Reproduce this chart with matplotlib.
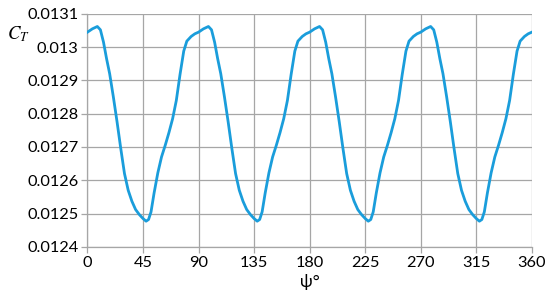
import matplotlib

matplotlib.use("Agg")
import matplotlib.pyplot as plt

plt.rcParams["font.family"] = ["Lato", "DejaVu Sans"]
plt.rcParams["mathtext.fontset"] = "stix"

# azimuth angle (deg) and thrust coefficient
psi = [
    0, 4, 8, 10.5, 13, 15.5, 18, 21, 24, 27, 30, 33, 36, 39, 42, 45, 47.5,
    49.5, 51.5, 54, 57, 60, 63, 66, 69, 72, 75, 78, 80.5, 84, 87,
    90, 94, 98, 100.5, 103, 105.5, 108, 111, 114, 117, 120, 123, 126, 129, 132,
    135, 137.5, 139.5, 141.5, 144, 147, 150, 153, 156, 159, 162, 165, 168,
    170.5, 174, 177,
    180, 184, 188, 190.5, 193, 195.5, 198, 201, 204, 207, 210, 213, 216, 219,
    222, 225, 227.5, 229.5, 231.5, 234, 237, 240, 243, 246, 249, 252, 255, 258,
    260.5, 264, 267,
    270, 274, 278, 280.5, 283, 285.5, 288, 291, 294, 297, 300, 303, 306, 309,
    312, 315, 317.5, 319.5, 321.5, 324, 327, 330, 333, 336, 339, 342, 345, 348,
    350.5, 354, 357,
    360,
]
ct = [
    0.013045, 0.013055, 0.013062, 0.013052, 0.013015, 0.012965, 0.012920,
    0.012850, 0.012775, 0.012695, 0.012620, 0.012570, 0.012537, 0.012512,
    0.012497, 0.012485, 0.012477, 0.012482, 0.012505, 0.012562, 0.012622,
    0.012670, 0.012705, 0.012743, 0.012785, 0.012840, 0.012918, 0.012988,
    0.013018, 0.013032, 0.013040,
    0.013045, 0.013055, 0.013062, 0.013052, 0.013015, 0.012965, 0.012920,
    0.012850, 0.012775, 0.012695, 0.012620, 0.012570, 0.012537, 0.012512,
    0.012497, 0.012485, 0.012477, 0.012482, 0.012505, 0.012562, 0.012622,
    0.012670, 0.012705, 0.012743, 0.012785, 0.012840, 0.012918, 0.012988,
    0.013018, 0.013032, 0.013040,
    0.013045, 0.013055, 0.013062, 0.013052, 0.013015, 0.012965, 0.012920,
    0.012850, 0.012775, 0.012695, 0.012620, 0.012570, 0.012537, 0.012512,
    0.012497, 0.012485, 0.012477, 0.012482, 0.012505, 0.012562, 0.012622,
    0.012670, 0.012705, 0.012743, 0.012785, 0.012840, 0.012918, 0.012988,
    0.013018, 0.013032, 0.013040,
    0.013045, 0.013055, 0.013062, 0.013052, 0.013015, 0.012965, 0.012920,
    0.012850, 0.012775, 0.012695, 0.012620, 0.012570, 0.012537, 0.012512,
    0.012497, 0.012485, 0.012477, 0.012482, 0.012505, 0.012562, 0.012622,
    0.012670, 0.012705, 0.012743, 0.012785, 0.012840, 0.012918, 0.012988,
    0.013018, 0.013032, 0.013040,
    0.013045,
]
x_ticks = [0, 45, 90, 135, 180, 225, 270, 315, 360]
y_ticks = [0.0124, 0.0125, 0.0126, 0.0127, 0.0128, 0.0129, 0.013, 0.0131]
y_labels = ["0.0124", "0.0125", "0.0126", "0.0127", "0.0128", "0.0129", "0.013", "0.0131"]

GRID = "#a6a6a6"

fig = plt.figure(figsize=(5.5, 3.01), dpi=100)
ax = fig.add_axes([0.159, 0.18, 0.808, 0.774])
ax.plot(psi, ct, color="#1a9ddb", linewidth=2.0, solid_joinstyle="round", zorder=3)

ax.set_xlim(0, 360)
ax.set_ylim(0.0124, 0.0131)
ax.set_xticks(x_ticks)
ax.set_yticks(y_ticks)
ax.set_yticklabels(y_labels)
ax.grid(True, color=GRID, linewidth=0.9)
ax.tick_params(colors=GRID, labelcolor="black", labelsize=11.8, length=4, width=0.9, pad=2.5)
for side in ("top", "right"):
    ax.spines[side].set_visible(False)
for side in ("left", "bottom"):
    ax.spines[side].set_color(GRID)
    ax.spines[side].set_linewidth(0.9)

ax.set_xlabel("ψ°", fontsize=12, labelpad=3)
fig.text(0.012, 0.885, r"$C_T$", fontsize=13.5, ha="left", va="center")

fig.savefig("out.png", dpi=100)
